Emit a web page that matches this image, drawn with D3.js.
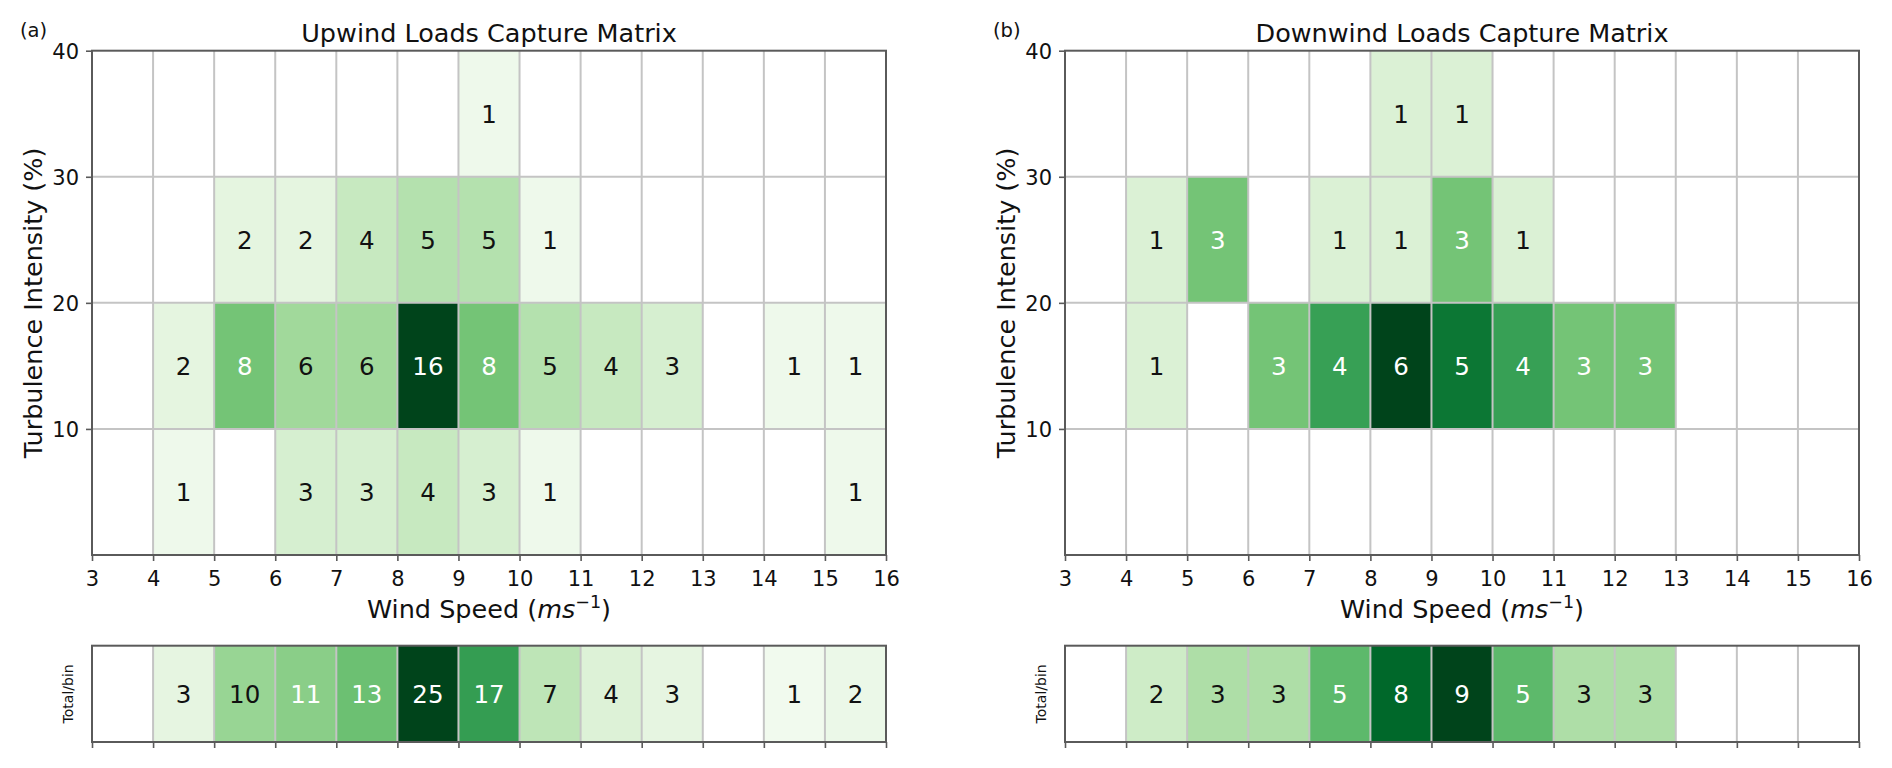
<!DOCTYPE html>
<html>
<head>
<meta charset="utf-8">
<script src="https://cdn.jsdelivr.net/npm/d3@7"></script>
<style>
  html, body { margin: 0; padding: 0; background: #fff; }
  svg { display: block; font-family: "DejaVu Sans", sans-serif; }
</style>
</head>
<body>
<svg id="chart" width="1892" height="768"></svg>
<script>
// ---------------- DATA ----------------
const windBins = [3, 4, 5, 6, 7, 8, 9, 10, 11, 12, 13, 14, 15]; // left edge of each 1 m/s bin
const windTicks = [3, 4, 5, 6, 7, 8, 9, 10, 11, 12, 13, 14, 15, 16];
const tiBins = [0, 10, 20, 30];          // lower edge of each TI bin (%)
const tiTicks = [10, 20, 30, 40];

// Upwind counts per TI bin (rows) and wind bin (columns)
const upwindTI00 = [0, 1, 0, 3, 3, 4, 3, 1, 0, 0, 0, 0, 1];
const upwindTI10 = [0, 2, 8, 6, 6, 16, 8, 5, 4, 3, 0, 1, 1];
const upwindTI20 = [0, 0, 2, 2, 4, 5, 5, 1, 0, 0, 0, 0, 0];
const upwindTI30 = [0, 0, 0, 0, 0, 0, 1, 0, 0, 0, 0, 0, 0];
const upwindTotals = [0, 3, 10, 11, 13, 25, 17, 7, 4, 3, 0, 1, 2];

// Downwind counts
const downwindTI00 = [0, 0, 0, 0, 0, 0, 0, 0, 0, 0, 0, 0, 0];
const downwindTI10 = [0, 1, 0, 3, 4, 6, 5, 4, 3, 3, 0, 0, 0];
const downwindTI20 = [0, 1, 3, 0, 1, 1, 3, 1, 0, 0, 0, 0, 0];
const downwindTI30 = [0, 0, 0, 0, 0, 1, 1, 0, 0, 0, 0, 0, 0];
const downwindTotals = [0, 2, 3, 3, 5, 8, 9, 5, 3, 3, 0, 0, 0];

const panelLabels = ["(a)", "(b)"];
const titles = ["Upwind Loads Capture Matrix", "Downwind Loads Capture Matrix"];
const xLabel = "Wind Speed";
const yLabel = "Turbulence Intensity (%)";
const totalLabel = "Total/bin";

// matplotlib "Greens" colormap anchors
const greensStops = ["#f7fcf5", "#e5f5e0", "#c7e9c0", "#a1d99b", "#74c476", "#41ab5d", "#238b45", "#006d2c", "#00441b"];

// ---------------- LAYOUT ----------------
const svg = d3.select("#chart");
const mainTop = 50.7, mainBottom = 555;
const subTop = 645.7, subBottom = 742;
const panelsX = [[92, 886], [1065, 1859]];
const spineColor = "#5a5a5a";
const gridColor = "#c4c4c4";
const valFont = 24.5, tickFont = 21, labelFont = 25.5;

const panels = [
  { rows: [upwindTI00, upwindTI10, upwindTI20, upwindTI30], totals: upwindTotals },
  { rows: [downwindTI00, downwindTI10, downwindTI20, downwindTI30], totals: downwindTotals }
];

function makeCmap(maxV) {
  const dom = greensStops.map((_, i) => i / (greensStops.length - 1) * maxV);
  return d3.scaleLinear().domain(dom).range(greensStops).interpolate(d3.interpolateRgb);
}

panels.forEach((p, pi) => {
  const [x0, x1] = panelsX[pi];
  const x = d3.scaleLinear().domain([3, 16]).range([x0, x1]);
  const y = d3.scaleLinear().domain([0, 40]).range([mainBottom, mainTop]);
  const ySub = d3.scaleLinear().domain([0, 1]).range([subBottom, subTop]);
  const g = svg.append("g");

  // ---- main heatmap cells ----
  const cells = [];
  p.rows.forEach((row, ri) => row.forEach((v, ci) => cells.push({ ti: tiBins[ri], w: windBins[ci], v })));
  const maxV = d3.max(cells, d => d.v);
  const cmap = makeCmap(maxV);
  const nz = cells.filter(d => d.v > 0);

  g.selectAll("rect.cell").data(nz).join("rect")
    .attr("x", d => x(d.w)).attr("width", d => x(d.w + 1) - x(d.w))
    .attr("y", d => y(d.ti + 10)).attr("height", d => y(d.ti) - y(d.ti + 10))
    .attr("fill", d => cmap(d.v));

  // grid
  g.selectAll("line.vg").data(windTicks.slice(1, -1)).join("line")
    .attr("x1", d => x(d)).attr("x2", d => x(d)).attr("y1", mainTop).attr("y2", mainBottom)
    .attr("stroke", gridColor).attr("stroke-width", 2);
  g.selectAll("line.hg").data([10, 20, 30]).join("line")
    .attr("x1", x0).attr("x2", x1).attr("y1", d => y(d)).attr("y2", d => y(d))
    .attr("stroke", gridColor).attr("stroke-width", 2);

  // cell values
  g.selectAll("text.val").data(nz).join("text")
    .attr("text-anchor", "middle")
    .attr("font-size", valFont)
    .attr("fill", d => d.v / maxV > 0.42 ? "#ffffff" : "#111111")
    .attr("x", d => (x(d.w) + x(d.w + 1)) / 2)
    .attr("y", d => (y(d.ti) + y(d.ti + 10)) / 2 + valFont * 0.36)
    .text(d => d.v);

  // axes
  const xAxis = g.append("g").attr("transform", `translate(0,${mainBottom})`)
    .call(d3.axisBottom(x).tickValues(windTicks).tickSize(6).tickFormat(d3.format("d")));
  xAxis.select(".domain").remove();
  xAxis.selectAll(".tick line").attr("stroke", spineColor).attr("stroke-width", 1.6);
  xAxis.selectAll(".tick text").attr("font-size", tickFont).attr("fill", "#111").attr("font-family", "DejaVu Sans")
    .attr("y", 31).attr("dy", 0);

  const yAxis = g.append("g").attr("transform", `translate(${x0},0)`)
    .call(d3.axisLeft(y).tickValues(tiTicks).tickSize(6).tickFormat(d3.format("d")));
  yAxis.select(".domain").remove();
  yAxis.selectAll(".tick line").attr("stroke", spineColor).attr("stroke-width", 1.6);
  yAxis.selectAll(".tick text").attr("font-size", tickFont).attr("fill", "#111").attr("font-family", "DejaVu Sans")
    .attr("x", -13).attr("dy", 0).attr("y", tickFont * 0.36);

  // spines
  g.append("rect").attr("x", x0).attr("y", mainTop).attr("width", x1 - x0).attr("height", mainBottom - mainTop)
    .attr("fill", "none").attr("stroke", spineColor).attr("stroke-width", 2);

  // titles & labels
  g.append("text").attr("text-anchor", "middle").attr("font-size", labelFont).attr("fill", "#111")
    .attr("x", (x0 + x1) / 2).attr("y", 42).text(titles[pi]);
  g.append("text").attr("text-anchor", "start").attr("font-size", 19.5).attr("fill", "#111")
    .attr("x", x0 - 72).attr("y", 37).text(panelLabels[pi]);

  const xl = g.append("text").attr("text-anchor", "middle").attr("font-size", labelFont).attr("fill", "#111")
    .attr("x", (x0 + x1) / 2).attr("y", 618);
  xl.append("tspan").text(xLabel + " (");
  xl.append("tspan").attr("font-style", "italic").text("ms");
  xl.append("tspan").attr("font-size", 17.5).attr("dy", -10).text("\u22121");
  xl.append("tspan").attr("dy", 10).text(")");

  g.append("text").attr("text-anchor", "middle").attr("font-size", labelFont).attr("fill", "#111")
    .attr("transform", `translate(${x0 - 50},${(mainTop + mainBottom) / 2}) rotate(-90)`)
    .text(yLabel);

  // ---- totals strip ----
  const maxT = d3.max(p.totals);
  const cmapT = makeCmap(maxT);
  const tot = p.totals.map((v, i) => ({ w: windBins[i], v })).filter(d => d.v > 0);

  g.selectAll("rect.tot").data(tot).join("rect")
    .attr("x", d => x(d.w)).attr("width", d => x(d.w + 1) - x(d.w))
    .attr("y", ySub(1)).attr("height", ySub(0) - ySub(1))
    .attr("fill", d => cmapT(d.v));

  g.selectAll("line.vgs").data(windTicks.slice(1, -1)).join("line")
    .attr("x1", d => x(d)).attr("x2", d => x(d)).attr("y1", subTop).attr("y2", subBottom)
    .attr("stroke", gridColor).attr("stroke-width", 2);

  g.selectAll("text.tv").data(tot).join("text")
    .attr("text-anchor", "middle").attr("font-size", valFont)
    .attr("fill", d => d.v / maxT > 0.42 ? "#ffffff" : "#111111")
    .attr("x", d => (x(d.w) + x(d.w + 1)) / 2)
    .attr("y", (subTop + subBottom) / 2 + valFont * 0.36)
    .text(d => d.v);

  const xAxisS = g.append("g").attr("transform", `translate(0,${subBottom})`)
    .call(d3.axisBottom(x).tickValues(windTicks).tickSize(6).tickFormat(""));
  xAxisS.select(".domain").remove();
  xAxisS.selectAll(".tick line").attr("stroke", spineColor).attr("stroke-width", 1.6);

  g.append("rect").attr("x", x0).attr("y", subTop).attr("width", x1 - x0).attr("height", subBottom - subTop)
    .attr("fill", "none").attr("stroke", spineColor).attr("stroke-width", 2);

  g.append("text").attr("text-anchor", "middle").attr("font-size", 14).attr("fill", "#111")
    .attr("transform", `translate(${x0 - 19},${(subTop + subBottom) / 2}) rotate(-90)`)
    .text(totalLabel);
});
</script>
</body>
</html>
